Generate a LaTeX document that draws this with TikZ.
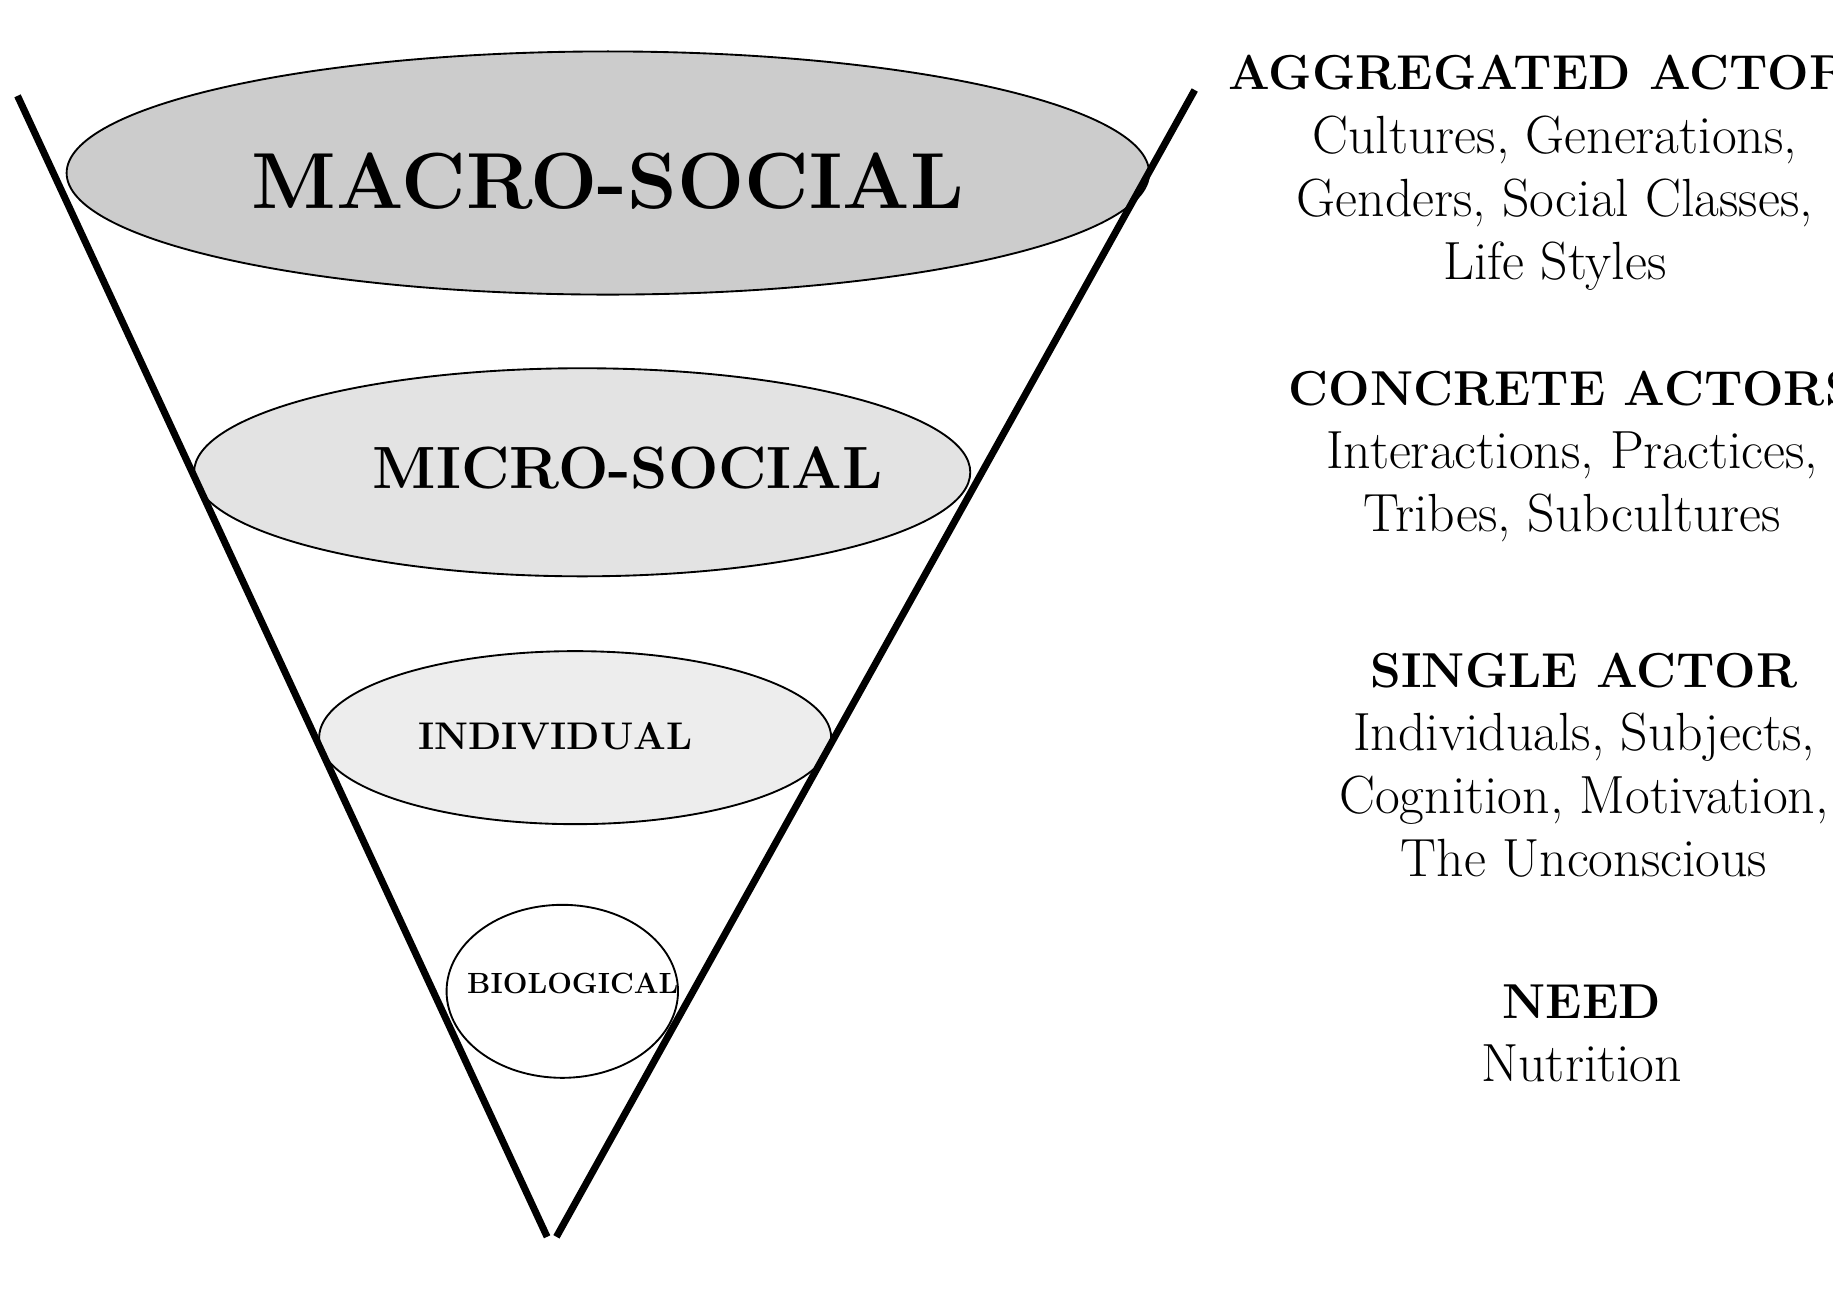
\documentclass[tikz,border=0pt]{standalone}
\usetikzlibrary{shapes.geometric}
\begin{document}
\begin{tikzpicture}[x=1pt,y=-1pt,
  ell/.style={draw,line width=1.6pt,ellipse,inner sep=0pt},
  lab/.style={font=\bfseries},
  side/.style={align=center,anchor=north,font=\fontsize{46}{54}\selectfont}]
\useasboundingbox (0,0) rectangle (1568,1105);
\coordinate (lt) at (15,82);
\coordinate (lb) at (468,1058);
\coordinate (rt) at (1022,77);
\coordinate (rb) at (476,1058);
\node[ell,fill=black!20,minimum width=926pt,minimum height=208pt] (macro) at (520,148) {};
\node[ell,fill=black!11,minimum width=664pt,minimum height=178pt] (micro) at (498,404) {};
\node[ell,fill=black!7,minimum width=438pt,minimum height=148pt] (indiv) at (492,631) {};
\node[ell,fill=white,minimum width=198pt,minimum height=148pt] (bio) at (481,848) {};
\draw[line width=6pt] (lt) -- (lb);
\draw[line width=6pt] (rt) -- (rb);
\node[lab,font=\bfseries\fontsize{68}{70}\selectfont] (tmacro) at (520,155) {MACRO-SOCIAL};
\node[lab,font=\bfseries\fontsize{51}{52}\selectfont] (tmicro) at (537,400) {MICRO-SOCIAL};
\node[lab,font=\bfseries\fontsize{33}{34}\selectfont] (tindiv) at (475,630) {INDIVIDUAL};
\node[lab,font=\bfseries\fontsize{25}{26}\selectfont] (tbio) at (490,841) {BIOLOGICAL};
\node[side] (agg) at (1330,44) {\textbf{\fontsize{42}{54}\selectfont AGGREGATED ACTORS}\\Cultures, Generations,\\Genders, Social Classes,\\Life Styles};
\node[side] (conc) at (1345,314) {\textbf{\fontsize{42}{54}\selectfont CONCRETE ACTORS}\\Interactions, Practices,\\Tribes, Subcultures};
\node[side] (single) at (1355,555) {\textbf{\fontsize{42}{54}\selectfont SINGLE ACTOR}\\Individuals, Subjects,\\Cognition, Motivation,\\The Unconscious};
\node[side] (need) at (1353,839) {\textbf{\fontsize{42}{54}\selectfont NEED}\\Nutrition};
\end{tikzpicture}
\end{document}
